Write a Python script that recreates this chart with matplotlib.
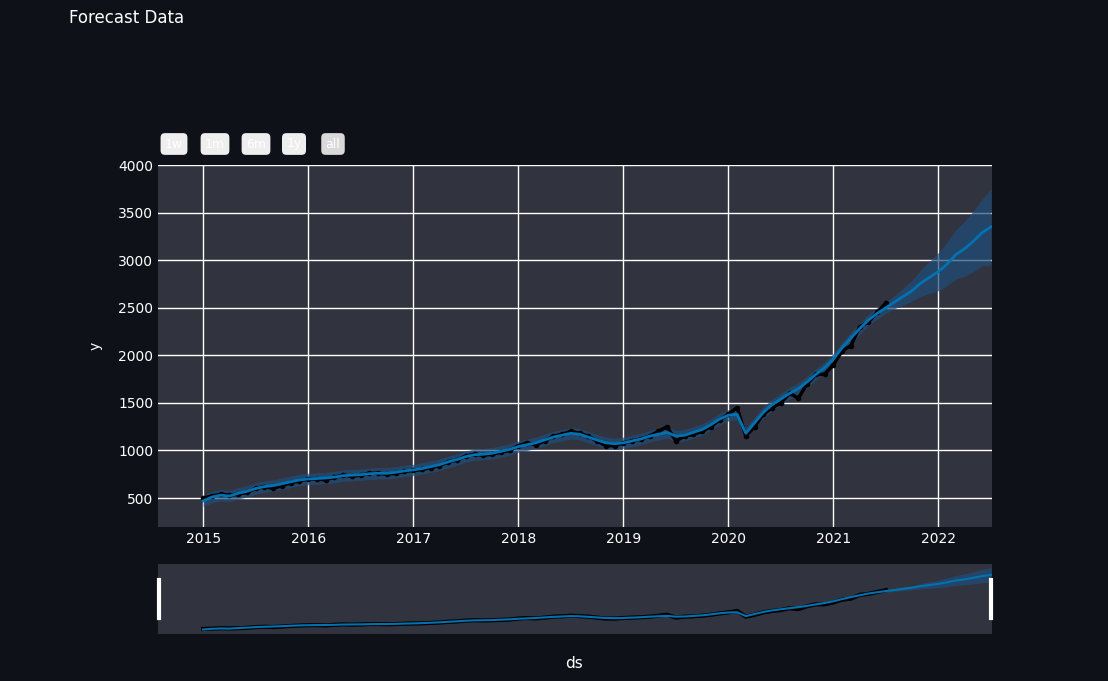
import numpy as np
import matplotlib.pyplot as plt

# monthly observed values, Jan 2015 .. Jul 2021
actual = [500, 520, 540, 530, 540, 560, 600, 620, 600, 630, 660, 680,
          700, 700, 690, 720, 740, 730, 740, 760, 760, 750, 760, 780,
          790, 800, 820, 840, 880, 900, 940, 960, 950, 960, 980, 1000,
          1050, 1080, 1060, 1100, 1150, 1170, 1200, 1180, 1150, 1100, 1050, 1050,
          1080, 1100, 1120, 1150, 1200, 1250, 1100, 1150, 1170, 1200, 1250, 1320,
          1380, 1450, 1150, 1250, 1380, 1450, 1500, 1600, 1550, 1700, 1800, 1800,
          1900, 2050, 2100, 2300, 2350, 2450, 2550]
# monthly forecast (yhat), Jan 2015 .. Jul 2022
yhat = [470, 510, 530, 520, 550, 570, 600, 620, 630, 650, 670, 690,
        700, 705, 710, 720, 735, 740, 745, 755, 760, 760, 770, 785,
        795, 810, 830, 850, 880, 905, 935, 955, 960, 970, 990, 1010,
        1040, 1060, 1080, 1110, 1140, 1160, 1180, 1170, 1140, 1110, 1080, 1070,
        1080, 1100, 1120, 1150, 1170, 1190, 1150, 1160, 1190, 1220, 1270, 1330,
        1370, 1380, 1180, 1290, 1400, 1480, 1540, 1600, 1650, 1720, 1800, 1870,
        1960, 2080, 2180, 2280, 2370, 2440, 2500, 2560, 2620, 2680, 2760, 2820,
        2880, 2960, 3060, 3120, 3200, 3290, 3350]
# half-width of uncertainty band
band = [60] * 79 + [70, 90, 110, 140, 170, 200, 230, 260, 290, 320, 350, 400]

t_act = 2015 + np.arange(len(actual)) / 12
t_fc = 2015 + np.arange(len(yhat)) / 12
yhat = np.array(yhat)
band = np.array(band)

bg = '#0e1117'
face = '#31333f'
blue = '#0072b2'

fig = plt.figure(figsize=(11.08, 6.81), dpi=100, facecolor=bg)
ax = fig.add_axes([0.1426, 0.2261, 0.7527, 0.5316], facecolor=face)
ax.fill_between(t_fc, yhat - band, yhat + band, color='#1f4e79', alpha=0.7, lw=0)
ax.plot(t_act, actual, 'o-', color='black', ms=3, lw=2.5)
ax.plot(t_fc, yhat, color=blue, lw=2)
ax.set_xlim(2014.57, 2022.51)
ax.set_ylim(195, 4000)
ax.set_yticks([500, 1000, 1500, 2000, 2500, 3000, 3500, 4000])
ax.set_xticks(range(2015, 2023))
ax.grid(color='white', lw=1)
ax.set_axisbelow(True)
for s in ax.spines.values():
    s.set_visible(False)
ax.tick_params(colors='white', length=0, labelsize=10)
ax.set_ylabel('y', color='white', fontsize=10, labelpad=11)

rs = fig.add_axes([0.1426, 0.069, 0.7527, 0.103], facecolor=face)
rs.fill_between(t_fc, yhat - band, yhat + band, color='#1f4e79', alpha=0.7, lw=0)
rs.plot(t_act, actual, color='black', lw=3)
rs.plot(t_fc, yhat, color=blue, lw=1.5)
rs.set_xlim(2014.57, 2022.51)
rs.set_ylim(235, 3935)
rs.set_xticks([])
rs.set_yticks([])
for s in rs.spines.values():
    s.set_visible(False)
rs.plot([2014.58, 2014.58], [1100, 3100], color='white', lw=3, clip_on=False)
rs.plot([2022.50, 2022.50], [1100, 3100], color='white', lw=3, clip_on=False)

fig.text(0.062, 0.974, 'Forecast Data', color='white', fontsize=12, va='center')
fig.text(0.518, 0.025, 'ds', color='white', fontsize=11, ha='center', va='center')
for lab, px in zip(['1w', '1m', '6m', '1y', 'all'], [174, 215, 256, 294, 333]):
    fig.text(px / 1108, 1 - 144 / 681, lab, ha='center', va='center', fontsize=9,
             color='white',
             bbox=dict(boxstyle='round,pad=0.35', fc='#d9d9d9' if lab == 'all' else '#eeeeee',
                       ec='none'))

fig.savefig('out.png', dpi=100, facecolor=bg)
